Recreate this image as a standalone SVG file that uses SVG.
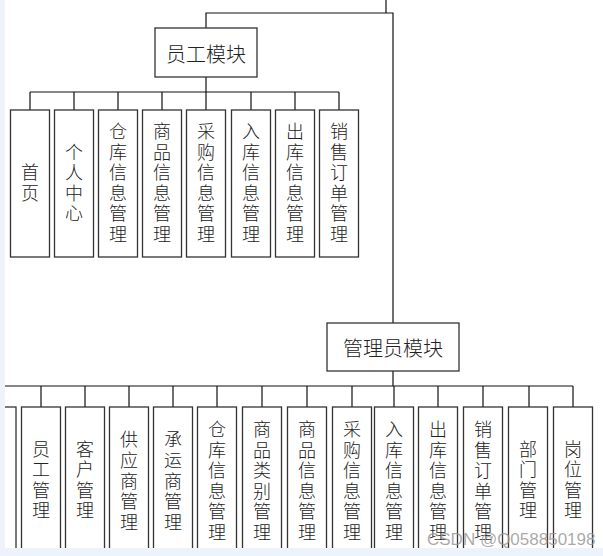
<svg xmlns="http://www.w3.org/2000/svg" width="603" height="556" viewBox="0 0 603 556">
<style>
.box{fill:#fff;stroke:#333;stroke-width:1.3}
.ln{stroke:#111;stroke-width:1.2;fill:none}
.t{font-family:"Noto Sans CJK SC","Noto Sans",sans-serif;font-size:18px;font-weight:300;fill:#222;text-anchor:middle}
.v{writing-mode:vertical-rl;letter-spacing:2.6px}
.h{font-size:20px;dominant-baseline:central}
.wm{font-family:"Liberation Sans",Arial,sans-serif;font-size:17px;fill:#9a9a9a;fill-opacity:0.85}
</style>
<rect x="0" y="0" width="603" height="556" fill="#fff"/>
<g id="connectors">
<path class="ln" d="M386 0V13M206 28V13H393V323"/>
<path class="ln" d="M206 77V92M30 92H339M30 92V110M74 92V110M118 92V110M162 92V110M206 92V110M251 92V110M295 92V110M339 92V110"/>
<path class="ln" d="M393 371V386M5 386H573M41 386V407M85 386V407M129 386V407M173 386V407M217 386V407M262 386V407M307 386V407M352 386V407M394 386V407M438 386V407M483 386V407M529 386V407M573 386V407"/>
</g>
<g id="emp"><rect class="box" x="155" y="28" width="102" height="49"/><text class="t h" x="206" y="53">员工模块</text></g>
<g id="e1"><rect class="box" x="10.5" y="110" width="39" height="147"/><text class="t v" x="30" y="184">首页</text></g>
<g id="e2"><rect class="box" x="54.5" y="110" width="39" height="147"/><text class="t v" x="74" y="184">个人中心</text></g>
<g id="e3"><rect class="box" x="98.5" y="110" width="39" height="147"/><text class="t v" x="118" y="184">仓库信息管理</text></g>
<g id="e4"><rect class="box" x="142.5" y="110" width="39" height="147"/><text class="t v" x="162" y="184">商品信息管理</text></g>
<g id="e5"><rect class="box" x="186.5" y="110" width="39" height="147"/><text class="t v" x="206" y="184">采购信息管理</text></g>
<g id="e6"><rect class="box" x="231.5" y="110" width="39" height="147"/><text class="t v" x="251" y="184">入库信息管理</text></g>
<g id="e7"><rect class="box" x="275.5" y="110" width="39" height="147"/><text class="t v" x="295" y="184">出库信息管理</text></g>
<g id="e8"><rect class="box" x="319.5" y="110" width="39" height="147"/><text class="t v" x="339" y="184">销售订单管理</text></g>
<g id="adm"><rect class="box" x="327" y="323" width="132" height="48"/><text class="t h" x="393" y="347">管理员模块</text></g>
<g id="a0"><rect class="box" x="-23" y="407" width="39" height="148"/></g>
<g id="a1"><rect class="box" x="21.5" y="407" width="39" height="148"/><text class="t v" x="41" y="481">员工管理</text></g>
<g id="a2"><rect class="box" x="65.5" y="407" width="39" height="148"/><text class="t v" x="85" y="481">客户管理</text></g>
<g id="a3"><rect class="box" x="109.5" y="407" width="39" height="148"/><text class="t v" x="129" y="482">供应商管理</text></g>
<g id="a4"><rect class="box" x="153.5" y="407" width="39" height="148"/><text class="t v" x="173" y="482">承运商管理</text></g>
<g id="a5"><rect class="box" x="197.5" y="407" width="39" height="148"/><text class="t v" x="217" y="482">仓库信息管理</text></g>
<g id="a6"><rect class="box" x="242.5" y="407" width="39" height="148"/><text class="t v" x="262" y="482">商品类别管理</text></g>
<g id="a7"><rect class="box" x="287.5" y="407" width="39" height="148"/><text class="t v" x="307" y="482">商品信息管理</text></g>
<g id="a8"><rect class="box" x="332.5" y="407" width="39" height="148"/><text class="t v" x="352" y="482">采购信息管理</text></g>
<g id="a9"><rect class="box" x="374.5" y="407" width="39" height="148"/><text class="t v" x="394" y="482">入库信息管理</text></g>
<g id="a10"><rect class="box" x="418.5" y="407" width="39" height="148"/><text class="t v" x="438" y="482">出库信息管理</text></g>
<g id="a11"><rect class="box" x="463.5" y="407" width="39" height="148"/><text class="t v" x="483" y="482">销售订单管理</text></g>
<g id="a12"><rect class="box" x="508.5" y="407" width="39" height="148"/><text class="t v" x="528" y="481">部门管理</text></g>
<g id="a13"><rect class="box" x="553.5" y="407" width="39" height="148"/><text class="t v" x="573" y="481">岗位管理</text></g>
<rect x="0" y="0" width="5" height="556" fill="#eef2fb"/>
<rect x="0" y="548" width="603" height="8" fill="#eef2fb"/>
<text class="wm" x="427" y="545">CSDN @Q058850198</text>
</svg>
